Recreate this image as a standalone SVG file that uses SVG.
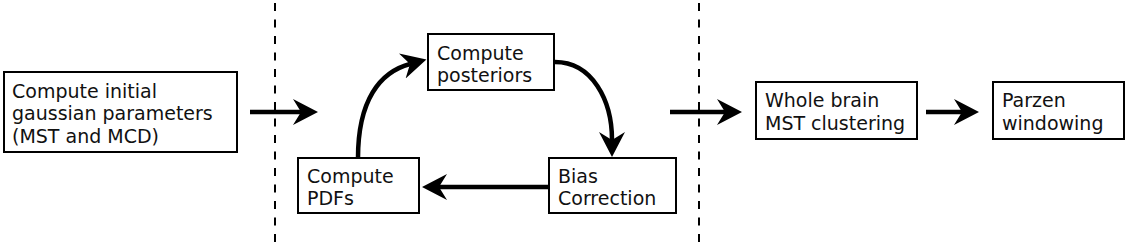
<svg xmlns="http://www.w3.org/2000/svg" width="1130" height="245" viewBox="0 0 1130 245">
<style>
.box{fill:#fff;stroke:#000;stroke-width:2}
.lbl{font-family:"DejaVu Sans",Verdana,sans-serif;font-size:19px;fill:#111}
.con{fill:none;stroke:#000;stroke-width:4.5}
.sep{fill:none;stroke:#000;stroke-width:2;stroke-dasharray:8 8.5}
</style>
<defs>
<marker id="ah" markerUnits="userSpaceOnUse" markerWidth="28" markerHeight="28" viewBox="0 -14 28 28" refX="8" refY="0" orient="auto">
<path d="M0,-13 L25,0 L0,13 L8,0 Z" fill="#000"/>
</marker>
</defs>
<rect width="1130" height="245" fill="#fff"/>
<g id="separators">
<line class="sep" x1="275" y1="3" x2="275" y2="245"/>
<line class="sep" x1="699" y1="3" x2="699" y2="245"/>
</g>
<g id="connectors">
<line class="con" x1="250" y1="112" x2="301" y2="112" marker-end="url(#ah)"/>
<path class="con" d="M358,158 C358,100 380,72 410,64" marker-end="url(#ah)"/>
<path class="con" d="M555,62 C592,62 612,100 612,140" marker-end="url(#ah)"/>
<line class="con" x1="549" y1="187" x2="439" y2="187" marker-end="url(#ah)"/>
<line class="con" x1="670" y1="112" x2="725" y2="112" marker-end="url(#ah)"/>
<line class="con" x1="926" y1="112" x2="962" y2="112" marker-end="url(#ah)"/>
</g>
<g id="init">
<rect class="box" x="4" y="72" width="233" height="80"/>
<text class="lbl" x="12" y="97.5">Compute initial</text>
<text class="lbl" x="12" y="120">gaussian parameters</text>
<text class="lbl" x="12" y="143">(MST and MCD)</text>
</g>
<g id="posteriors">
<rect class="box" x="428" y="34" width="126" height="56"/>
<text class="lbl" x="437" y="60">Compute</text>
<text class="lbl" x="437" y="82">posteriors</text>
</g>
<g id="pdfs">
<rect class="box" x="298" y="158" width="121" height="55"/>
<text class="lbl" x="307" y="183">Compute</text>
<text class="lbl" x="307" y="205">PDFs</text>
</g>
<g id="bias">
<rect class="box" x="549" y="158" width="127" height="55"/>
<text class="lbl" x="558" y="183">Bias</text>
<text class="lbl" x="558" y="205">Correction</text>
</g>
<g id="mst">
<rect class="box" x="756" y="82" width="161" height="57"/>
<text class="lbl" x="765" y="107">Whole brain</text>
<text class="lbl" x="765" y="130">MST clustering</text>
</g>
<g id="parzen">
<rect class="box" x="993" y="82" width="131" height="57"/>
<text class="lbl" x="1002" y="107">Parzen</text>
<text class="lbl" x="1002" y="130">windowing</text>
</g>
</svg>
